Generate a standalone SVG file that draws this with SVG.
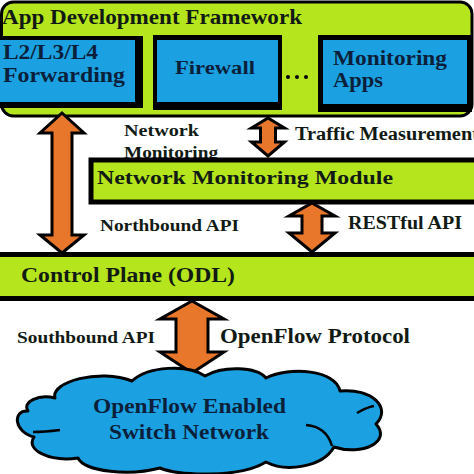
<svg xmlns="http://www.w3.org/2000/svg" width="474" height="474" viewBox="0 0 474 474">
<style>
.t{font-family:'Liberation Serif','DejaVu Serif',serif;font-weight:700;fill:#111a14}
.tb{font-family:'Liberation Serif','DejaVu Serif',serif;font-weight:700;fill:#0c1f3a}
.green{fill:#b5e61d;stroke:#000}
.blue{fill:#1ba1e2}
.arrow{fill:#e8772b;stroke:#000;stroke-width:3;stroke-linejoin:miter}
</style>
<rect width="474" height="474" fill="#fff"/>

<g id="framework">
  <rect class="green" x="1.5" y="2" width="470.5" height="114" rx="12" stroke-width="3"/>
  <text class="t" x="2" y="24" font-size="20" textLength="300" lengthAdjust="spacingAndGlyphs">App Development Framework</text>
</g>

<g id="forwarding">
  <rect x="-4" y="36" width="147" height="72" fill="#000"/>
  <rect class="blue" x="0" y="40" width="135" height="62"/>
  <text class="tb" x="3" y="59" font-size="20" textLength="95" lengthAdjust="spacingAndGlyphs">L2/L3/L4</text>
  <text class="tb" x="3" y="82" font-size="20" textLength="122" lengthAdjust="spacingAndGlyphs">Forwarding</text>
</g>

<g id="firewall">
  <rect x="153" y="35" width="129" height="75" fill="#000"/>
  <rect class="blue" x="157" y="40" width="121" height="62"/>
  <text class="tb" x="175" y="74" font-size="19" textLength="80" lengthAdjust="spacingAndGlyphs">Firewall</text>
</g>

<g id="dots">
  <circle cx="288" cy="77" r="2" fill="#000"/>
  <circle cx="297" cy="77" r="2" fill="#000"/>
  <circle cx="306" cy="77" r="2" fill="#000"/>
</g>

<g id="monitoring-apps">
  <rect x="318" y="35" width="154" height="77" fill="#000"/>
  <rect class="blue" x="323" y="40" width="144" height="64"/>
  <text class="tb" x="333" y="65" font-size="20" textLength="114" lengthAdjust="spacingAndGlyphs">Monitoring</text>
  <text class="tb" x="333" y="87" font-size="20" textLength="50" lengthAdjust="spacingAndGlyphs">Apps</text>
</g>

<g id="connectors">
  <polygon class="arrow" points="62,113 84,133 72,133 72,235 84,235 62,253 40,235 52,235 52,133 40,133"/>
  <polygon class="arrow" points="268,118 284.5,128 275.5,128 275.5,142 284.5,142 268,156 251.5,142 260.5,142 260.5,128 251.5,128"/>
  <polygon class="arrow" points="312,203 335,216 322,216 322,233 335,233 312,252 289,233 302,233 302,216 289,216"/>
  <polygon class="arrow" points="192,301 224,319 208,319 208,352 224,352 192,373 160,352 176,352 176,319 160,319"/>
  <text class="t" x="124" y="136" font-size="16" textLength="75" lengthAdjust="spacingAndGlyphs">Network</text>
  <text class="t" x="124" y="158" font-size="16" textLength="94" lengthAdjust="spacingAndGlyphs">Monitoring</text>
  <text class="t" x="295" y="140" font-size="18" textLength="184" lengthAdjust="spacingAndGlyphs">Traffic Measurement</text>
  <text class="t" x="100" y="231" font-size="17" textLength="139" lengthAdjust="spacingAndGlyphs">Northbound API</text>
  <text class="t" x="348" y="229" font-size="18" textLength="114" lengthAdjust="spacingAndGlyphs">RESTful API</text>
  <text class="t" x="17" y="343" font-size="17" textLength="138" lengthAdjust="spacingAndGlyphs">Southbound API</text>
  <text class="t" x="220" y="343" font-size="20" textLength="190" lengthAdjust="spacingAndGlyphs">OpenFlow Protocol</text>
</g>

<g id="monitoring-module">
  <rect class="green" x="91" y="160" width="390" height="42" stroke-width="5"/>
  <text class="t" x="97" y="184" font-size="19" textLength="296" lengthAdjust="spacingAndGlyphs">Network Monitoring Module</text>
</g>

<g id="control-plane">
  <rect class="green" x="-5" y="254.5" width="484" height="44" stroke-width="5"/>
  <text class="t" x="21" y="282" font-size="20" textLength="214" lengthAdjust="spacingAndGlyphs">Control Plane (ODL)</text>
</g>

<g id="switch-network">
  <path class="blue" stroke="#000" stroke-width="3" stroke-linejoin="round" d="M55,398 C50,382 100,368 132,381 C148,366 188,364 205,376 C222,366 256,366 266,378 C290,366 336,370 340,391 C372,388 392,408 376,424 C392,442 362,456 334,447 C322,468 285,472 266,462 C240,478 180,476 160,468 C130,476 85,472 78,458 C50,462 25,450 34,437 C14,432 12,410 28,411 C22,402 38,394 55,398 Z"/>
  <path d="M357,413 C362,410 368,407 374,406" fill="none" stroke="#000" stroke-width="2.5"/>
  <path d="M306,425 C318,426 328,432 332,446" fill="none" stroke="#000" stroke-width="2.5"/>
  <path d="M33,432 C42,432 52,431 60,430" fill="none" stroke="#000" stroke-width="2.5"/>
  <text class="tb" x="93" y="413" font-size="20" textLength="193" lengthAdjust="spacingAndGlyphs">OpenFlow Enabled</text>
  <text class="tb" x="109" y="439" font-size="20" textLength="160" lengthAdjust="spacingAndGlyphs">Switch Network</text>
</g>
</svg>
